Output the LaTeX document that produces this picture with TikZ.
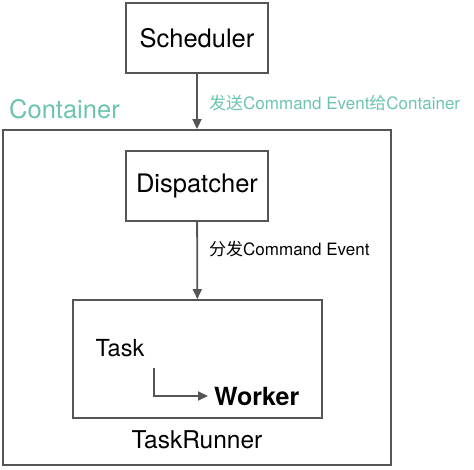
\documentclass[tikz,border=0pt]{standalone}
\usepackage{fontspec}
\setmainfont{TeX Gyre Heros}
\newfontfamily\cjk{Noto Sans CJK SC}
\usetikzlibrary{positioning,
        arrows.meta}
\definecolor{linegray}{HTML}{555555}
\definecolor{teal}{HTML}{6CC4B0}

\begin{document}
\begin{tikzpicture}[x=1pt,y=-1pt,
        box/.style={draw=linegray,line width=1.8pt,rectangle,inner sep=0pt},
        flow/.style={draw=linegray,line width=1.8pt,-{Triangle[length=10pt,width=9pt]}},
        lbl/.style={font=\fontsize{17}{19}\selectfont,anchor=west,inner sep=0pt}]
        \useasboundingbox (0,0) rectangle (474,469);

        \node [box,minimum width=142,minimum height=70,font=\fontsize{25.5}{28}\selectfont] (scheduler) at (197,38) {Scheduler};
        \node [box,minimum width=388,minimum height=335] (container) at (197,297.5) {};
        \node [anchor=west,inner sep=0pt,text=teal,font=\fontsize{25.5}{28}\selectfont] (title) at (9,109) {Container};
        \node [box,minimum width=142,minimum height=70,font=\fontsize{25.5}{28}\selectfont] (dispatcher) at (197,186) {Dispatcher};
        \node [box,minimum width=249,minimum height=118] (runner) at (197.5,359) {};
        \node [font=\fontsize{24.5}{27}\selectfont] (runnerlabel) at (197,440) {TaskRunner};
        \node [font=\fontsize{23.5}{26}\selectfont,inner sep=0pt] (task) at (120,348) {Task};
        \node [font=\fontsize{25}{28}\selectfont\bfseries,anchor=west,inner sep=0pt] (worker) at (214,396) {Worker};
        \coordinate (bend) at (154,368);

        \draw [flow] (scheduler) -- (container);
        \node [lbl,text=teal] (sendlabel) at (209,103) {{\cjk 发送}Command Event{\cjk 给}Container};
        \draw [flow] (dispatcher) -- (runner);
        \node [lbl] (dispatchlabel) at (209,249) {{\cjk 分发}Command Event};
        \draw [flow] (bend) |- ([xshift=-6pt]worker.west);
    \end{tikzpicture}
\end{document}
